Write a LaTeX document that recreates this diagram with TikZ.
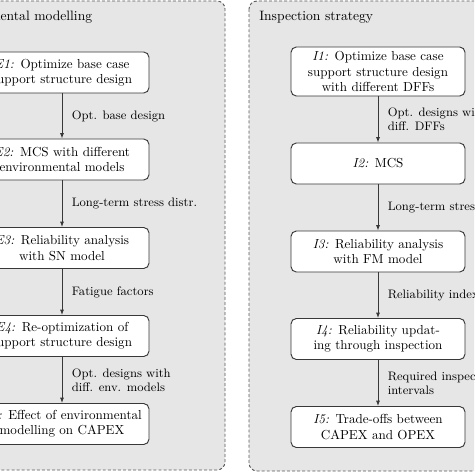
\documentclass[tikz,border=0pt]{standalone}
\usetikzlibrary{arrows.meta}
\definecolor{panelfill}{HTML}{E6E6E6}
\definecolor{panelline}{HTML}{5A5A5A}
\definecolor{boxline}{HTML}{383838}
\begin{document}
\begin{tikzpicture}[x=0.75pt,y=-0.75pt,
  panel/.style={draw=panelline, fill=panelfill, dash pattern=on 2.2pt off 1.6pt, line width=0.7pt, rounded corners=6pt},
  stepbox/.style={draw=boxline, fill=white, line width=0.7pt, rounded corners=4pt, minimum width=130.5pt, minimum height=30.75pt, text width=126pt, align=center, inner sep=0pt, font=\fontsize{9.8}{11.6}\selectfont},
  lbl/.style={anchor=west, align=left, inner sep=0pt, xshift=7pt, font=\fontsize{9.2}{10.5}\selectfont},
  flow/.style={draw=boxline, line width=0.7pt, -{Latex[length=4pt,width=3pt]}},
  ttl/.style={anchor=base west, inner sep=0pt, font=\fontsize{10.2}{12}\selectfont}]
\useasboundingbox (0,0) rectangle (474,474);
\clip (0,0) rectangle (474,474);
% panels
\draw[panel] (-68,1) rectangle (225,470);
\draw[panel] (249,1) rectangle (542,471);
\node[ttl] (tl) at (-58,21) {Environmental modelling};
\node[ttl] (tr) at (259,21) {Inspection strategy};
% left column
\node[stepbox] (e1) at (62,72.5) {\textit{E1:} Optimize base case\\support structure design};
\node[stepbox] (e2) at (62,159.5) {\textit{E2:} MCS with different\\environmental models};
\node[stepbox] (e3) at (62,248) {\textit{E3:} Reliability analysis\\with SN model};
\node[stepbox] (e4) at (62,336) {\textit{E4:} Re-optimization of\\support structure design};
\node[stepbox] (e5) at (62,424) {\textit{E5:} Effect of environmental\\modelling on CAPEX};
\draw[flow] (e1) -- node[lbl] {Opt. base design} (e2);
\draw[flow] (e2) -- node[lbl] {Long-term stress distr.} (e3);
\draw[flow] (e3) -- node[lbl] {Fatigue factors} (e4);
\draw[flow] (e4) -- node[lbl] {Opt. designs with\\diff. env. models} (e5);
% right column
\node[stepbox, minimum height=36.75pt] (i1) at (378,71.5) {\textit{I1:} Optimize base case\\support structure design\\with different DFFs};
\node[stepbox] (i2) at (378,163.5) {\textit{I2:} MCS};
\node[stepbox] (i3) at (378,251.5) {\textit{I3:} Reliability analysis\\with FM model};
\node[stepbox] (i4) at (378,339) {\textit{I4:} Reliability updat-\\ing through inspection};
\node[stepbox] (i5) at (378,427) {\textit{I5:} Trade-offs between\\CAPEX and OPEX};
\draw[flow] (i1) -- node[lbl] {Opt. designs with\\diff. DFFs} (i2);
\draw[flow] (i2) -- node[lbl] {Long-term stress distr.} (i3);
\draw[flow] (i3) -- node[lbl] {Reliability index} (i4);
\draw[flow] (i4) -- node[lbl] {Required inspection\\intervals} (i5);
\end{tikzpicture}
\end{document}
